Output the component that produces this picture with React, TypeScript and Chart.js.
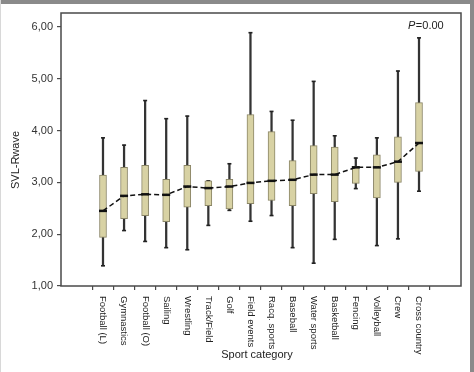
import React, { useEffect, useRef } from "react";
import { Chart, registerables } from "chart.js";

Chart.register(...registerables);

const categories = [
  "Football (L)", "Gymnastics", "Football (O)", "Sailing", "Wrestling", "Track/Field", "Golf",
  "Field events", "Racq. sports", "Baseball", "Water sports", "Basketball", "Fencing",
  "Volleyball", "Crew", "Cross country",
];
const whiskerLow = [1.39, 2.07, 1.86, 1.74, 1.70, 2.17, 2.46, 2.25, 2.36, 1.74, 1.44, 1.90, 2.88, 1.78, 1.91, 2.83];
const q1 = [1.94, 2.30, 2.36, 2.24, 2.52, 2.55, 2.49, 2.59, 2.65, 2.55, 2.78, 2.63, 2.98, 2.70, 3.00, 3.21];
const median = [2.45, 2.74, 2.77, 2.76, 2.92, 2.89, 2.92, 2.99, 3.03, 3.05, 3.15, 3.15, 3.29, 3.29, 3.40, 3.76];
const q3 = [3.14, 3.29, 3.33, 3.06, 3.33, 3.03, 3.06, 4.31, 3.98, 3.42, 3.71, 3.68, 3.31, 3.53, 3.88, 4.54];
const whiskerHigh = [3.86, 3.72, 4.58, 4.23, 4.28, 3.03, 3.36, 5.89, 4.37, 4.20, 4.95, 3.90, 3.47, 3.86, 5.15, 5.79];
const yTicks = [1, 2, 3, 4, 5, 6];
const yTitle = "SVL-Rwave";
const xTitle = "Sport category";
const pLabel = "P";
const pValue = "=0.00";

const FONT = '"Liberation Sans", Arial, Helvetica, sans-serif';

const decorPlugin = {
  id: "decor",
  afterDraw(chart: any) {
    const { ctx, chartArea: a, scales } = chart;
    const x = scales.x;
    ctx.save();
    ctx.strokeStyle = "#4a4a4a";
    ctx.lineWidth = 1.5;
    ctx.strokeRect(a.left, a.top, a.right - a.left, a.bottom - a.top);

    ctx.fillStyle = "#222";
    ctx.font = `9.5px ${FONT}`;
    ctx.textAlign = "left";
    ctx.textBaseline = "middle";
    categories.forEach((c, i) => {
      const px = x.getPixelForValue(i);
      ctx.save();
      ctx.translate(px, a.bottom + 10);
      ctx.rotate(Math.PI / 2);
      ctx.fillText(c, 0, 0);
      ctx.restore();
    });

    ctx.font = `11px ${FONT}`;
    ctx.textAlign = "center";
    ctx.fillText(xTitle, (a.left + a.right) / 2 - 4, 355);

    ctx.save();
    ctx.translate(16, 160);
    ctx.rotate(-Math.PI / 2);
    ctx.fillText(yTitle, 0, 0);
    ctx.restore();

    ctx.textAlign = "left";
    ctx.font = `italic 11px ${FONT}`;
    const px0 = a.right - 53;
    ctx.fillText(pLabel, px0, 26);
    const w = ctx.measureText(pLabel).width;
    ctx.font = `11px ${FONT}`;
    ctx.fillText(pValue, px0 + w + 0.5, 26);
    ctx.restore();
  },
};

export default function App() {
  const ref = useRef<HTMLCanvasElement | null>(null);

  useEffect(() => {
    document.body.style.margin = "0";
    if (!ref.current) return;
    const idx = categories.map((_, i) => i);
    const chart = new Chart(ref.current, {
      type: "bar",
      data: {
        datasets: [
          {
            type: "bar",
            data: idx.map((i) => ({ x: i, y: [whiskerLow[i], whiskerHigh[i]] })) as any,
            backgroundColor: "#333",
            borderWidth: 0,
            barThickness: 1.6,
            grouped: false,
            order: 5,
          } as any,
          {
            type: "scatter",
            data: idx.flatMap((i) => [
              { x: i, y: whiskerLow[i] },
              { x: i, y: whiskerHigh[i] },
            ]),
            pointStyle: "line",
            pointRadius: 2,
            pointBorderWidth: 1.6,
            pointBorderColor: "#222",
            order: 4,
          } as any,
          {
            type: "bar",
            data: idx.map((i) => ({ x: i, y: [q1[i], q3[i]] })) as any,
            backgroundColor: "#d8d2a4",
            borderColor: "#8a8566",
            borderWidth: 1,
            borderSkipped: false,
            barThickness: 7,
            grouped: false,
            order: 3,
          } as any,
          {
            type: "line",
            data: idx.map((i) => ({ x: i, y: median[i] })),
            borderColor: "#111",
            borderWidth: 1.5,
            borderDash: [5, 3],
            pointRadius: 0,
            fill: false,
            order: 2,
          } as any,
          {
            type: "scatter",
            data: idx.map((i) => ({ x: i, y: median[i] })),
            pointStyle: "line",
            pointRadius: 4,
            pointBorderWidth: 2.5,
            pointBorderColor: "#111",
            order: 1,
          } as any,
        ],
      },
      options: {
        animation: false,
        responsive: false,
        layout: { padding: { top: 13, right: 13, left: 0, bottom: 0 } },
        plugins: { legend: { display: false }, tooltip: { enabled: false } },
        scales: {
          x: {
            type: "linear",
            min: -1.4,
            max: categories.length - 1 + 1.4,
            afterBuildTicks: (s: any) => {
              s.ticks = categories.map((_, i) => ({ value: i }));
            },
            afterFit: (s: any) => {
              s.height = 86;
            },
            ticks: { autoSkip: false, callback: () => "", maxRotation: 0 },
            grid: { drawOnChartArea: false, drawTicks: true, tickLength: 4, color: "#4a4a4a", lineWidth: 1.2 },
            border: { display: false },
          },
          y: {
            type: "linear",
            min: 1,
            max: 6.27,
            afterBuildTicks: (s: any) => {
              s.ticks = yTicks.map((v) => ({ value: v }));
            },
            afterFit: (s: any) => {
              s.width = 61;
            },
            ticks: {
              padding: 4,
              color: "#333",
              font: { family: FONT, size: 11 },
              callback: (v: any) => Number(v).toFixed(2).replace(".", ","),
            },
            grid: { drawOnChartArea: false, drawTicks: true, tickLength: 4, color: "#4a4a4a", lineWidth: 1.2 },
            border: { display: false },
          },
        },
      },
      plugins: [decorPlugin],
    } as any);
    return () => chart.destroy();
  }, []);

  return (
    <div style={{ position: "relative", width: 474, height: 372, background: "#fff", overflow: "hidden" }}>
      <canvas ref={ref} width={474} height={372} style={{ display: "block", width: 474, height: 372 }} />
      <div style={{ position: "absolute", left: 0, top: 0, width: 474, height: 4, background: "#8a8a8a" }} />
      <div style={{ position: "absolute", right: 0, top: 0, width: 4, height: 372, background: "#8a8a8a" }} />
      <div style={{ position: "absolute", left: 0, top: 0, width: 1, height: 372, background: "#d8d8d8" }} />
    </div>
  );
}
